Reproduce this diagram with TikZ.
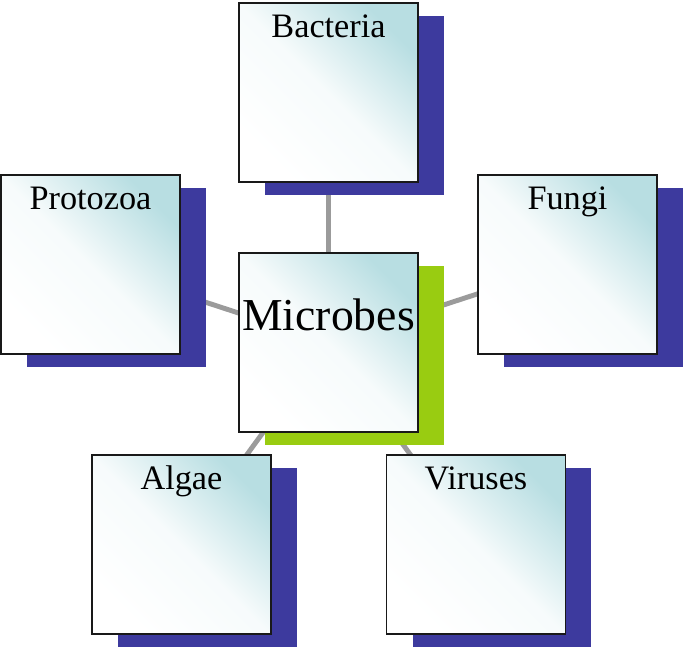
\documentclass[tikz,border=0pt]{standalone}
\usepackage{fontspec}
\setmainfont{Liberation Serif}
\usepackage{tikz}
\usetikzlibrary{shadows,backgrounds}
\definecolor{BoxTint}{HTML}{B8DEE2}
\definecolor{ShadeBlue}{HTML}{3D3A9E}
\definecolor{ShadeLime}{HTML}{99CC11}
\definecolor{LinkGrey}{HTML}{9B9B9B}

\begin{document}
\begin{tikzpicture}[x=0.02cm, y=-0.02cm,
  box/.style={draw=black!90,line width=1.1pt,inner sep=0pt,text width=3.58cm,align=center,
              top color=BoxTint,bottom color=white,middle color=BoxTint!12!white,shading angle=-45},
  cat/.style={box,text height=0.68cm,text depth=2.9cm,font=\fontsize{19.5}{20}\selectfont,
              drop shadow={shadow xshift=0.52cm,shadow yshift=-0.26cm,fill=ShadeBlue,opacity=1}},
  hub/.style={box,text height=1.54cm,text depth=2.04cm,font=\fontsize{26}{28}\selectfont,
              drop shadow={shadow xshift=0.52cm,shadow yshift=-0.26cm,fill=ShadeLime,opacity=1}},
  link/.style={line width=2.8pt,LinkGrey},
]
\useasboundingbox (0,0) rectangle (685,647);

\node[cat] (bac) at (328.5,92.5)  {Bacteria};
\node[cat] (pro) at (90.5,264.5)  {Protozoa};
\node[cat] (fun) at (567.5,264.5) {Fungi};
\node[hub] (mic) at (328.5,342.5) {Microbes};
\node[cat] (alg) at (181.5,544.5) {Algae};
\node[cat] (vir) at (476,544.5)   {Viruses};

\begin{scope}[on background layer]
  \foreach \t in {bac,pro,fun,alg,vir}
    \draw[link] (mic.center) -- (\t.center);
\end{scope}
\end{tikzpicture}
\end{document}
